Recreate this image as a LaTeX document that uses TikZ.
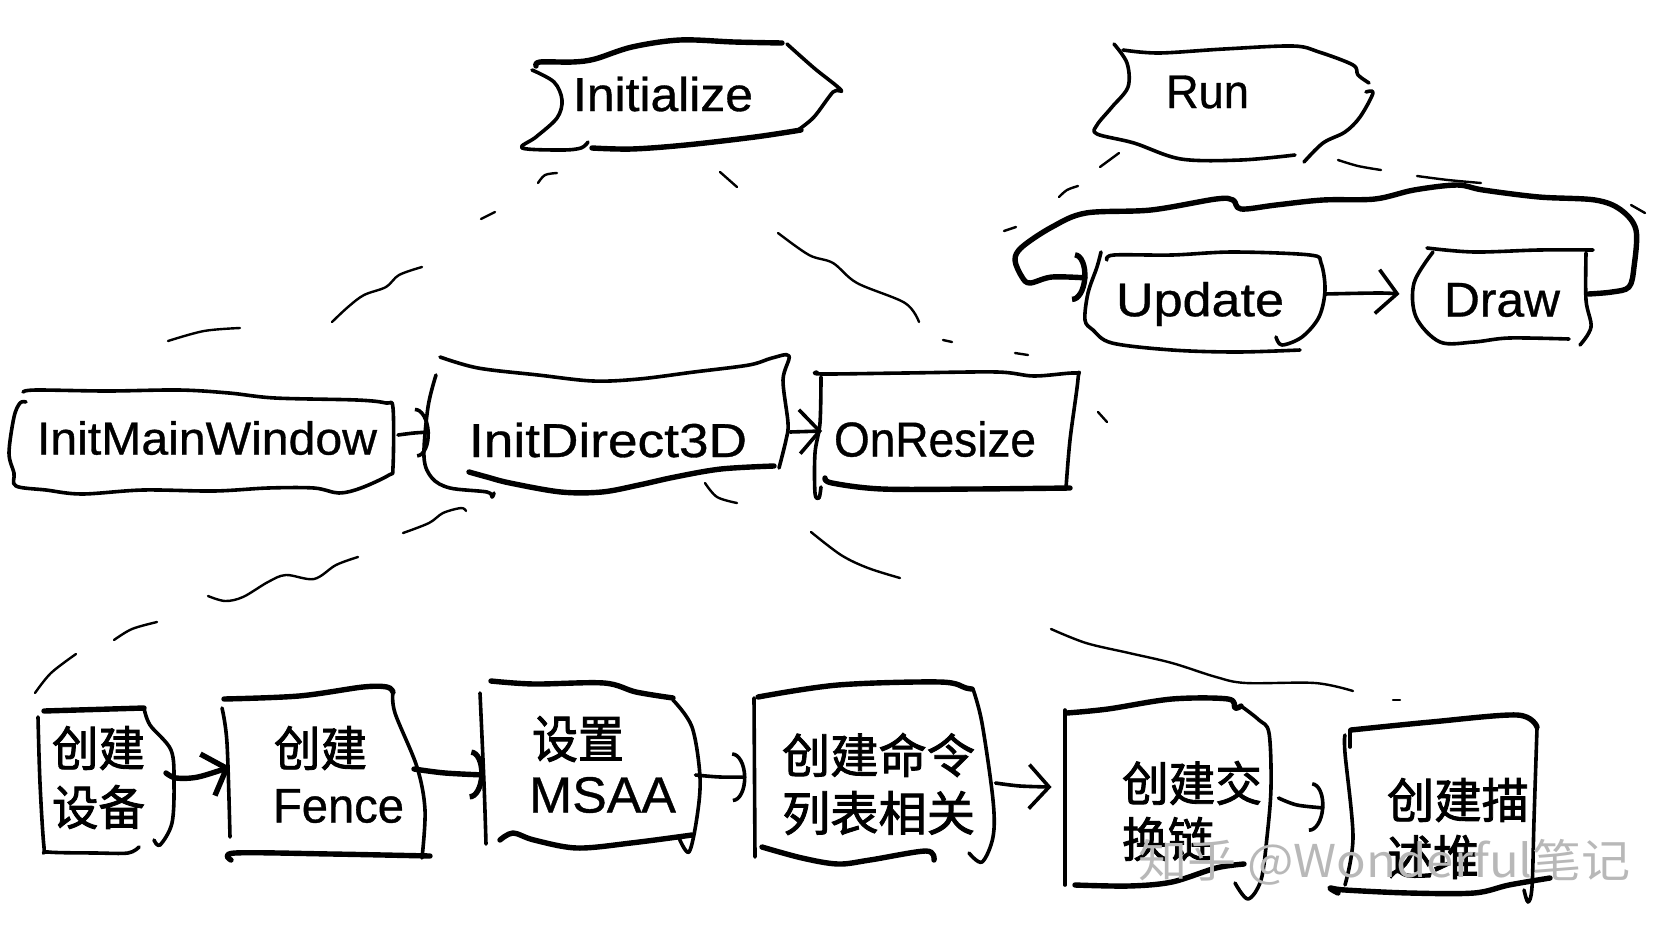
\documentclass[tikz,border=0pt]{standalone}
\usepackage{graphicx}
\usepackage{fontspec}
\setmainfont[FakeBold=0.7]{Liberation Sans}
\newfontfamily\cjk[FakeBold=1.8]{Noto Sans CJK SC}
\newfontfamily\cjkthin{Noto Sans CJK SC}
\usetikzlibrary{arrows.meta}
\tikzset{
	pen/.style={line width=3.6pt, line cap=round, line join=round},
	heavy/.style={line width=5.4pt, line cap=round, line join=round},
	tick/.style={line width=2.4pt, line cap=round, line join=round},
	tiparc/.style={-{Arc Barb[arc=180,length=14pt,width=50pt]}},
	tipbarb/.style={-{Straight Barb[length=20pt,width=44pt]}},
	slot/.style={inner sep=0pt, outer sep=0pt, minimum height=6pt},
	lab/.style={inner sep=0pt, outer sep=0pt, anchor=west, font=\fontsize{48}{50}\selectfont}
}
\newcommand{\handline}[2][pen]{\draw[#1] plot[smooth,tension=.55] coordinates {#2};}
\newcommand{\hand}[3]{\resizebox*{#1pt}{#2pt}{#3}}

\begin{document}
\begin{tikzpicture}[x=1pt,y=-1pt]
\useasboundingbox (0,0) rectangle (1676,927);

\node[slot, minimum width=384pt] (mainwin) at (206,435) {};
\node[slot, minimum width=360pt] (direct) at (610,432) {};
\node[slot, minimum width=248pt] (resize) at (946,431) {};
\node[slot, minimum width=237pt] (update) at (1206,294) {};
\node[slot, minimum width=189pt] (draw) at (1494,294) {};
\node[slot, minimum width=126pt] (device) at (103,773) {};
\node[slot, minimum width=184pt] (fence) at (322,769) {};
\node[slot, minimum width=211pt] (msaa) at (590,775) {};
\node[slot, minimum width=249pt] (cmdlist) at (871,781) {};
\node[slot, minimum width=227pt] (swap) at (1165,793) {};
\node[slot, minimum width=215pt] (heap) at (1432,808) {};

\node[lab] (initlabel) at (573,94) {\hand{180}{35}{Initialize}};
\node[lab] (runlabel) at (1166,92) {\hand{83}{33}{Run}};
\node[lab] (mainlabel) at (37,438) {\hand{340}{34}{InitMainWindow}};
\node[lab] (directlabel) at (469,440) {\hand{278}{35}{InitDirect3D}};
\node[lab] (resizelabel) at (834,439) {\hand{202}{36}{OnResize}};
\node[lab] (updatelabel) at (1116,304) {\hand{168}{44}{Update}};
\node[lab] (drawlabel) at (1444,300) {\hand{116}{34}{Draw}};
\node[lab] (devicea) at (52,748) {\cjk\hand{93}{44}{创建}};
\node[lab] (deviceb) at (52,807) {\cjk\hand{93}{44}{设备}};
\node[lab] (fencea) at (274,748) {\cjk\hand{93}{44}{创建}};
\node[lab] (fenceb) at (273,806) {\hand{131}{34}{Fence}};
\node[lab] (msaaa) at (532,739) {\cjk\hand{92}{46}{设置}};
\node[lab] (msaab) at (529,795) {\hand{147}{36}{MSAA}};
\node[lab] (cmda) at (782,755) {\cjk\hand{193}{44}{创建命令}};
\node[lab] (cmdb) at (782,813) {\cjk\hand{193}{44}{列表相关}};
\node[lab] (swapa) at (1122,783) {\cjk\hand{140}{44}{创建交}};
\node[lab] (swapb) at (1122,839) {\cjk\hand{92}{44}{换链}};
\node[lab] (heapa) at (1387,800) {\cjk\hand{142}{44}{创建描}};
\node[lab] (heapb) at (1387,857) {\cjk\hand{92}{44}{述堆}};

% Initialize
\handline[heavy]{(536,66) (540,62) (573,62) (595,59) (632,47) (680,40) (734,42) (782,43)}
\handline{(787,44) (814,68) (841,90) (833,92) (814,117) (798,130)}
\handline[heavy]{(801,130) (755,137) (686,145) (632,149) (592,148)}
\handline{(588,142) (581,148) (562,150) (522,148) (536,137) (557,118) (562,100) (554,82) (532,70)}
% Run
\handline{(1123,50) (1159,53) (1224,49) (1293,46) (1319,52) (1353,65) (1358,75) (1369,83)}
\handline{(1366,92) (1373,93) (1360,117) (1345,132) (1323,143) (1304,162)}
\handline{(1295,155) (1241,160) (1181,159) (1134,143) (1097,134) (1097,125) (1112,107) (1128,87) (1127,63) (1114,44)}
% InitMainWindow
\handline{(23,392) (36,390) (107,391) (179,390) (229,393) (275,398) (357,400) (386,403) (393,408) (393,467) (389,475) (361,488) (339,493) (314,488) (268,488) (214,491) (143,490) (82,494) (46,490) (16,486) (14,473) (9,453) (14,417) (20,403) (26,402)}
% InitDirect3D
\handline{(440,357) (478,368) (538,375) (593,381) (639,379) (694,372) (749,365) (772,358) (789,356) (783,380) (788,423) (786,440) (779,468)}
\handline[heavy]{(774,466) (721,469) (675,477) (639,485) (602,492) (561,492) (510,483) (487,477) (469,472)}
\handline{(436,375) (428,407) (424,457) (432,478) (450,488) (487,492) (492,497) (494,493)}
% OnResize
\handline{(817,372) (822,374) (905,373) (997,372) (1034,376) (1075,373) (1078,379) (1070,440) (1066,488)}
\handline[heavy]{(1070,488) (974,489) (882,489) (832,483) (825,478)}
\handline{(821,377) (820,423) (815,453) (815,493) (819,498) (821,487)}
% Update
\handline{(1107,260) (1114,255) (1172,255) (1233,252) (1310,255) (1321,263) (1325,290) (1319,317) (1302,337) (1282,345) (1276,337)}
\handline{(1300,350) (1237,352) (1172,350) (1112,343) (1093,330) (1085,320) (1088,293) (1097,267) (1101,252)}
% Draw
\handline{(1427,248) (1474,252) (1539,250) (1593,250)}
\handline{(1433,252) (1414,283) (1416,317) (1440,342) (1474,342) (1509,338) (1569,339)}
\handline{(1586,253) (1586,300) (1591,327) (1580,345)}
% device
\handline[heavy]{(44,711) (144,708)}
\handline{(144,708) (150,725) (171,750) (174,783) (172,823) (160,845) (154,840)}
\handline{(139,847) (128,853) (96,853) (48,852) (44,847) (40,783) (38,717)}
% fence
\handline[heavy]{(224,699) (299,696) (363,687) (387,687) (393,692)}
\handline{(393,692) (395,713) (417,767) (425,810) (422,858)}
\handline[heavy]{(231,860) (235,853) (331,854) (430,856)}
\handline{(222,708) (227,743) (230,837)}
% msaa
\handline[heavy]{(491,681) (534,684) (604,683) (636,692) (673,698)}
\handline{(673,700) (692,727) (700,777) (697,817) (689,852) (679,838)}
\handline[heavy]{(692,835) (631,843) (577,848) (534,840) (513,833) (500,840)}
\handline{(480,693) (484,783) (486,844)}
% command list
\handline[heavy]{(758,697) (838,685) (940,682) (966,688) (972,689)}
\handline{(973,689) (982,723) (993,800) (993,837) (982,862) (969,853)}
\handline[heavy]{(934,860) (926,851) (870,860) (838,864) (802,858) (762,847)}
\handline{(754,698) (755,857)}
% swap chain
\handline[heavy]{(1067,713) (1108,709) (1172,699) (1228,699) (1235,708) (1241,706)}
\handline{(1241,706) (1259,720) (1269,733) (1271,787) (1267,837) (1261,880) (1248,899) (1235,883)}
\handline[heavy]{(1075,885) (1129,886) (1172,882) (1216,868) (1244,864)}
\handline{(1065,710) (1065,885)}
% descriptor heap
\handline[heavy]{(1351,730) (1431,722) (1517,715) (1537,727)}
\handline{(1537,728) (1534,820) (1532,887) (1528,902) (1524,890)}
\handline[heavy]{(1550,878) (1509,885) (1474,893) (1409,893) (1345,890) (1330,888) (1338,893)}
\handline{(1350,730) (1350,747)}
\handline{(1345,735) (1345,753) (1353,837) (1345,885)}

\handline[pen,tiparc]{(mainwin.east) (414,433) (direct.west)}
\handline[pen,tipbarb]{(direct.east) (resize.west)}
\handline[pen,tipbarb]{(update.east) (1379,293) (draw.west)}
\handline[heavy,tiparc]{(draw.east) (1612,292) (1629,287) (1634,267) (1636,230) (1621,210) (1595,200) (1539,197) (1483,190) (1457,185) (1414,190) (1375,199) (1323,200) (1276,205) (1241,209) (1233,200) (1216,199) (1151,210) (1086,213) (1052,227) (1022,247) (1015,260) (1022,277) (1030,283) (1052,277) ([yshift=16pt]update.west)}
\handline[heavy,tipbarb]{(device.east) (176,778) (198,777) ([yshift=2pt]fence.west)}
\handline[heavy,tiparc]{(fence.east) (445,773) (msaa.west)}
\handline[pen,tiparc]{(msaa.east) (720,777) ([yshift=4pt]cmdlist.west)}
\handline[pen,tipbarb]{([yshift=-2pt]cmdlist.east) (1020,786) ([yshift=6pt]swap.west)}
\handline[pen,tiparc]{([yshift=-5pt]swap.east) (1297,805) (heap.west)}

% dashes of the tree
\handline[tick]{(538,183) (545,175) (557,173)}
\handline[tick]{(720,172) (737,187)}
\handline[tick]{(481,219) (495,212)}
\handline[tick]{(332,322) (348,307) (364,295) (386,287) (399,275) (422,267)}
\handline[tick]{(168,341) (204,331) (240,328)}
\handline[tick]{(778,233) (809,255) (833,263) (857,283) (905,303) (919,322)}
\handline[tick]{(943,340) (952,342)}
\handline[tick]{(1015,353) (1028,355)}
\handline[tick]{(1098,412) (1107,422)}
\handline[tick]{(403,533) (429,523) (443,513) (461,508) (466,511)}
\handline[tick]{(208,596) (225,601) (243,597) (268,582) (286,575) (314,579) (336,565) (358,557)}
\handline[tick]{(114,640) (132,629) (157,622)}
\handline[tick]{(35,693) (51,673) (76,654)}
\handline[tick]{(705,483) (717,497) (737,503)}
\handline[tick]{(811,532) (841,555) (868,568) (900,578)}
\handline[tick]{(1051,629) (1086,643) (1129,653) (1172,663) (1216,677) (1246,683) (1315,683) (1353,691)}
\handline[tick]{(1393,700) (1400,700)}
\handline[tick]{(1100,167) (1119,153)}
\handline[tick]{(1338,160) (1358,166) (1381,170)}
\handline[tick]{(1417,176) (1448,180) (1481,183)}
\handline[tick]{(1059,197) (1067,190) (1078,186)}
\handline[tick]{(1004,231) (1016,227)}
\handline[tick]{(1631,205) (1645,213)}

\node[lab, text=black!28] (mark) at (1138,862) {\cjkthin\hand{493}{46}{知乎 @Wonderful笔记}};
\end{tikzpicture}
\end{document}
